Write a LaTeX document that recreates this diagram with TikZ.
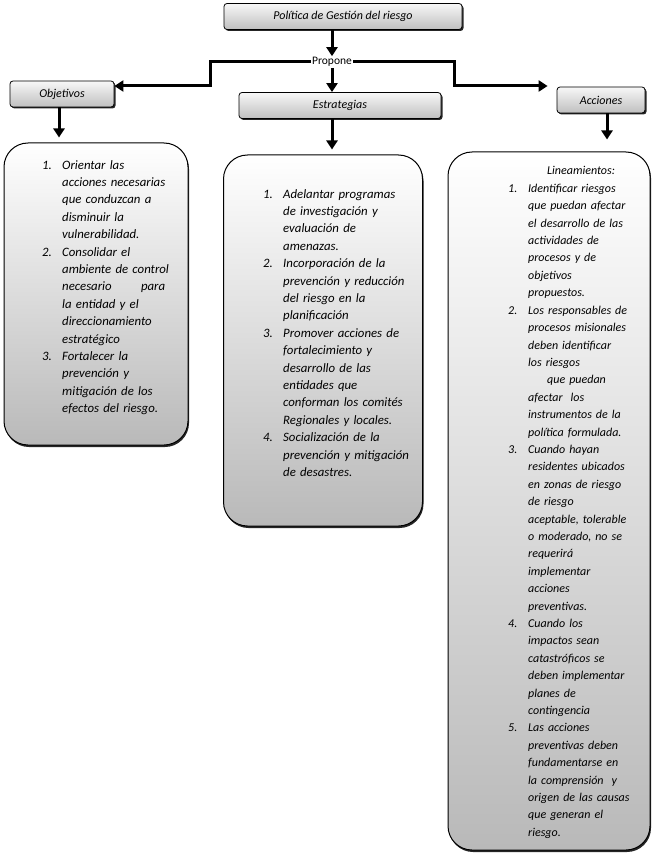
\documentclass[tikz,border=0pt]{standalone}
\usepackage{fontspec}
\setmainfont{Carlito}
\usetikzlibrary{arrows.meta,shadows,calc}
\newcommand\nm[1]{\makebox[20pt][l]{#1}}
\newcommand\ind{\hspace*{20pt}}
\begin{document}
\begin{tikzpicture}[x=1pt,y=-1pt,
  titlebox/.style={draw=black, line width=0.8pt, rounded corners=3pt,
    top color=gray!6, bottom color=gray!50,
    drop shadow={shadow xshift=1.5pt, shadow yshift=-1.5pt, opacity=0.85, fill=black},
    font=\fontsize{12}{13}\selectfont\itshape, inner sep=0pt, minimum height=26pt},
  bigbox/.style={draw=black, line width=1pt, rounded corners=24pt,
    top color=white, bottom color=gray!55,
    drop shadow={shadow xshift=1pt, shadow yshift=-2pt, opacity=0.85, fill=black}},
  txt/.style={font=\fontsize{12.8}{17.4}\selectfont\itshape, inner sep=0pt,
    anchor=base west, align=left, text width=220pt},
  arr/.style={line width=3pt, -{Triangle[length=9pt,width=11pt]}},
]
\useasboundingbox (0,0) rectangle (658,861);

% header boxes
\node[titlebox, minimum width=238pt] (top) at (343,16.5) {Política de Gestión del riesgo};
\node[font=\fontsize{11.5}{12}\selectfont, inner sep=1pt] (prop) at (332,62) {Propone};
\node[titlebox, minimum width=104pt] (obj) at (62,94) {Objetivos};
\node[titlebox, minimum width=202pt] (est) at (340,105.5) {Estrategias};
\node[titlebox, minimum width=88pt] (acc) at (601,100) {Acciones};

% big boxes
\node[bigbox, minimum width=184pt, minimum height=302pt] (lbox) at (96,294) {};
\node[bigbox, minimum width=199pt, minimum height=371pt] (mbox) at (323,340.5) {};
\node[bigbox, minimum width=202pt, minimum height=698pt] (rbox) at (549,501) {};

% connectors
\coordinate (jl) at (210,86);
\coordinate (jr) at (454,86);
\draw[arr] (top.south -| prop.north) -- (prop.north);
\draw[arr] (prop.west) -| (jl) -- (obj.east |- jl);
\draw[arr] (prop.east) -| (jr) -- ([xshift=-9pt]acc.west |- jr);
\draw[arr] (prop.south) -- (prop.south |- est.north);
\draw[arr, shorten >=5pt] ([xshift=-3pt]obj.south) -- ([xshift=-3pt]obj.south |- lbox.north);
\draw[arr, shorten >=5pt] (prop.south |- est.south) -- (prop.south |- mbox.north);
\draw[arr, shorten >=12pt] ([xshift=6pt]acc.south) -- ([xshift=6pt]acc.south |- rbox.north);

% texts
\node[txt] (ltxt) at (42,169) {%
\nm{1.}Orientar las\\
\ind acciones necesarias\\
\ind que conduzcan a\\
\ind disminuir la\\
\ind vulnerabilidad.\\
\nm{2.}Consolidar el\\
\ind ambiente de control\\
\ind \makebox[103pt][l]{necesario\hfill para}\\
\ind la entidad y el\\
\ind direccionamiento\\
\ind estratégico\\
\nm{3.}Fortalecer la\\
\ind prevención y\\
\ind mitigación de los\\
\ind efectos del riesgo.};

\node[txt] (mtxt) at (263,198) {%
\nm{1.}Adelantar programas\\
\ind de investigación y\\
\ind evaluación de\\
\ind amenazas.\\
\nm{2.}Incorporación de la\\
\ind prevención y reducción\\
\ind del riesgo en la\\
\ind planificación\\
\nm{3.}Promover acciones de\\
\ind fortalecimiento y\\
\ind desarrollo de las\\
\ind entidades que\\
\ind conforman los comités\\
\ind Regionales y locales.\\
\nm{4.}Socialización de la\\
\ind prevención y mitigación\\
\ind de desastres.};

\node[txt, font=\fontsize{12}{17.4}\selectfont\itshape] (rtxt) at (508,175) {%
\ind\hspace*{19pt}Lineamientos:\\
\nm{1.}Identificar riesgos\\
\ind que puedan afectar\\
\ind el desarrollo de las\\
\ind actividades de\\
\ind procesos y de\\
\ind objetivos\\
\ind propuestos.\\
\nm{2.}Los responsables de\\
\ind procesos misionales\\
\ind deben identificar\\
\ind los riesgos\\
\ind\hspace*{19pt}que puedan\\
\ind afectar\ \ los\\
\ind instrumentos de la\\
\ind política formulada.\\
\nm{3.}Cuando hayan\\
\ind residentes ubicados\\
\ind en zonas de riesgo\\
\ind de riesgo\\
\ind aceptable, tolerable\\
\ind o moderado, no se\\
\ind requerirá\\
\ind implementar\\
\ind acciones\\
\ind preventivas.\\
\nm{4.}Cuando los\\
\ind impactos sean\\
\ind catastróficos se\\
\ind deben implementar\\
\ind planes de\\
\ind contingencia\\
\nm{5.}Las acciones\\
\ind preventivas deben\\
\ind fundamentarse en\\
\ind la comprensión\ \ y\\
\ind origen de las causas\\
\ind que generan el\\
\ind riesgo.};
\end{tikzpicture}
\end{document}
